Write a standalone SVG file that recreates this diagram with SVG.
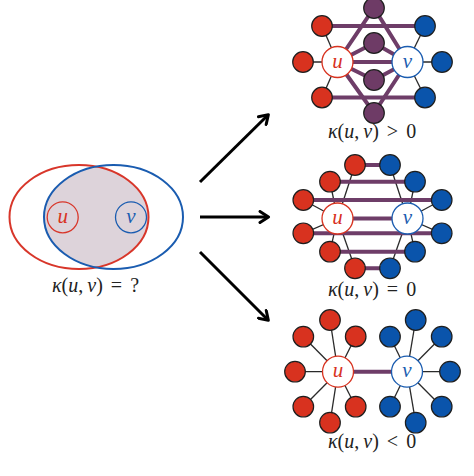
<svg xmlns="http://www.w3.org/2000/svg" width="474" height="476" viewBox="0 0 474 476">
<style>
.bg{fill:#ffffff}
.rn{fill:#d8321f;stroke:#1e1e1e;stroke-width:1.2}
.bn{fill:#0a54ab;stroke:#1e1e1e;stroke-width:1.2}
.pn{fill:#6e3b66;stroke:#1e1e1e;stroke-width:1.2}
.uc{fill:#ffffff;stroke:#d8321f;stroke-width:1.3}
.vc{fill:#ffffff;stroke:#1a5cb0;stroke-width:1.3}
.th{stroke:#2a2a2a;stroke-width:1.3;fill:none}
.pe{stroke:#6e3d68;stroke-width:4;fill:none}
.lab{font-family:"Liberation Serif","DejaVu Serif",serif;font-style:italic;font-size:21px}
.ul{fill:#d8321f}
.vl{fill:#1a5cb0}
.cap{font-family:"Liberation Serif","DejaVu Serif",serif;font-size:20px;fill:#222}
.it{font-style:italic}
.arr{stroke:#000;stroke-width:3;fill:none}
</style>
<defs>
<marker id="ah" markerWidth="14" markerHeight="14" refX="11" refY="7" orient="auto" markerUnits="userSpaceOnUse">
<path d="M3,1.5 L11.5,7 L3,12.5" fill="none" stroke="#000" stroke-width="3" stroke-linecap="round" stroke-linejoin="round"/>
</marker>
<clipPath id="redclip"><ellipse cx="79" cy="217" rx="69.5" ry="52"/></clipPath>
</defs>
<rect class="bg" x="0" y="0" width="474" height="476"/>

<g id="left-venn">
<ellipse cx="113.5" cy="217" rx="69.5" ry="52" fill="#ddd3da" clip-path="url(#redclip)"/>
<ellipse cx="79" cy="217" rx="69.5" ry="52" fill="none" stroke="#d8362a" stroke-width="2"/>
<ellipse cx="113.5" cy="217" rx="69.5" ry="52" fill="none" stroke="#1a5cb0" stroke-width="2"/>
<circle cx="62.7" cy="217.3" r="15.5" fill="none" stroke="#d8362a" stroke-width="1.3"/>
<circle cx="131" cy="217.3" r="15.5" fill="none" stroke="#1a5cb0" stroke-width="1.3"/>
<text class="lab ul" x="62.7" y="223" text-anchor="middle">u</text>
<text class="lab vl" x="131" y="223" text-anchor="middle">v</text>
<text class="cap" x="52" y="292"><tspan class="it">κ</tspan>(<tspan class="it">u</tspan>,<tspan class="it" dx="4">v</tspan>)<tspan dx="8">=</tspan><tspan dx="8">?</tspan></text>
</g>

<g id="connectors">
<line class="arr" x1="200" y1="182" x2="268" y2="115" marker-end="url(#ah)"/>
<line class="arr" x1="200" y1="217" x2="268" y2="217" marker-end="url(#ah)"/>
<line class="arr" x1="200" y1="252" x2="268" y2="320" marker-end="url(#ah)"/>
</g>

<g id="graph-positive">
<g class="th">
<line x1="337.5" y1="62" x2="322" y2="26"/>
<line x1="337.5" y1="62" x2="303" y2="62"/>
<line x1="337.5" y1="62" x2="322" y2="97.5"/>
<line x1="407.5" y1="62" x2="425" y2="26"/>
<line x1="407.5" y1="62" x2="442" y2="62"/>
<line x1="407.5" y1="62" x2="425" y2="97.5"/>
</g>
<g class="pe">
<line x1="322" y1="26" x2="425" y2="26"/>
<line x1="322" y1="97.5" x2="425" y2="97.5"/>
<line x1="337.5" y1="62" x2="407.5" y2="62"/>
<polyline points="337.5,62 374,43 407.5,62"/>
<polyline points="337.5,62 374,80 407.5,62"/>
<polyline points="337.5,62 374,8 407.5,62"/>
<polyline points="337.5,62 374,113 407.5,62"/>
</g>
<circle class="rn" cx="322" cy="26" r="10.3"/>
<circle class="rn" cx="303" cy="62" r="10.3"/>
<circle class="rn" cx="322" cy="97.5" r="10.3"/>
<circle class="bn" cx="425" cy="26" r="10.3"/>
<circle class="bn" cx="442" cy="62" r="10.3"/>
<circle class="bn" cx="425" cy="97.5" r="10.3"/>
<circle class="pn" cx="374" cy="8" r="10.3"/>
<circle class="pn" cx="374" cy="43" r="10.3"/>
<circle class="pn" cx="374" cy="80" r="10.3"/>
<circle class="pn" cx="374" cy="113" r="10.3"/>
<circle class="uc" cx="337.5" cy="62" r="15.5"/>
<circle class="vc" cx="407.5" cy="62" r="15.5"/>
<text class="lab ul" x="337.5" y="67.5" text-anchor="middle">u</text>
<text class="lab vl" x="407.5" y="67.5" text-anchor="middle">v</text>
<text class="cap" x="328" y="138"><tspan class="it">κ</tspan>(<tspan class="it">u</tspan>,<tspan class="it" dx="4">v</tspan>)<tspan dx="8">&gt;</tspan><tspan dx="8">0</tspan></text>
</g>

<g id="graph-zero">
<g class="th">
<line x1="337.5" y1="218.5" x2="355" y2="165"/>
<line x1="337.5" y1="218.5" x2="330" y2="181.7"/>
<line x1="337.5" y1="218.5" x2="303.3" y2="200"/>
<line x1="337.5" y1="218.5" x2="303.3" y2="233.3"/>
<line x1="337.5" y1="218.5" x2="330" y2="251.7"/>
<line x1="337.5" y1="218.5" x2="355" y2="268.3"/>
<line x1="407.5" y1="218.5" x2="390" y2="165"/>
<line x1="407.5" y1="218.5" x2="415" y2="181.7"/>
<line x1="407.5" y1="218.5" x2="441.7" y2="200"/>
<line x1="407.5" y1="218.5" x2="441.7" y2="233.3"/>
<line x1="407.5" y1="218.5" x2="415" y2="251.7"/>
<line x1="407.5" y1="218.5" x2="390" y2="268.3"/>
</g>
<g class="pe">
<line x1="355" y1="165" x2="390" y2="165"/>
<line x1="330" y1="181.7" x2="415" y2="181.7"/>
<line x1="303.3" y1="200" x2="441.7" y2="200"/>
<line x1="337.5" y1="218.5" x2="407.5" y2="218.5"/>
<line x1="303.3" y1="233.3" x2="441.7" y2="233.3"/>
<line x1="330" y1="251.7" x2="415" y2="251.7"/>
<line x1="355" y1="268.3" x2="390" y2="268.3"/>
</g>
<circle class="rn" cx="355" cy="165" r="10.3"/>
<circle class="rn" cx="330" cy="181.7" r="10.3"/>
<circle class="rn" cx="303.3" cy="200" r="10.3"/>
<circle class="rn" cx="303.3" cy="233.3" r="10.3"/>
<circle class="rn" cx="330" cy="251.7" r="10.3"/>
<circle class="rn" cx="355" cy="268.3" r="10.3"/>
<circle class="bn" cx="390" cy="165" r="10.3"/>
<circle class="bn" cx="415" cy="181.7" r="10.3"/>
<circle class="bn" cx="441.7" cy="200" r="10.3"/>
<circle class="bn" cx="441.7" cy="233.3" r="10.3"/>
<circle class="bn" cx="415" cy="251.7" r="10.3"/>
<circle class="bn" cx="390" cy="268.3" r="10.3"/>
<circle class="uc" cx="337.5" cy="218.5" r="15.5"/>
<circle class="vc" cx="407.5" cy="218.5" r="15.5"/>
<text class="lab ul" x="337.5" y="224" text-anchor="middle">u</text>
<text class="lab vl" x="407.5" y="224" text-anchor="middle">v</text>
<text class="cap" x="328" y="296"><tspan class="it">κ</tspan>(<tspan class="it">u</tspan>,<tspan class="it" dx="4">v</tspan>)<tspan dx="8">=</tspan><tspan dx="8">0</tspan></text>
</g>

<g id="graph-negative">
<g class="th">
<line x1="338" y1="371.7" x2="330" y2="320"/>
<line x1="338" y1="371.7" x2="303.3" y2="336.7"/>
<line x1="338" y1="371.7" x2="355.7" y2="336.5"/>
<line x1="338" y1="371.7" x2="295" y2="371.7"/>
<line x1="338" y1="371.7" x2="303.3" y2="406.7"/>
<line x1="338" y1="371.7" x2="355.7" y2="406.7"/>
<line x1="338" y1="371.7" x2="330" y2="422.7"/>
<line x1="407" y1="371.7" x2="415.7" y2="320"/>
<line x1="407" y1="371.7" x2="390" y2="336.7"/>
<line x1="407" y1="371.7" x2="441.7" y2="336.7"/>
<line x1="407" y1="371.7" x2="450" y2="371.7"/>
<line x1="407" y1="371.7" x2="390" y2="406.7"/>
<line x1="407" y1="371.7" x2="441.7" y2="406.7"/>
<line x1="407" y1="371.7" x2="415.7" y2="422.7"/>
</g>
<line class="pe" x1="338" y1="371.7" x2="407" y2="371.7"/>
<circle class="rn" cx="330" cy="320" r="10.3"/>
<circle class="rn" cx="303.3" cy="336.7" r="10.3"/>
<circle class="rn" cx="355.7" cy="336.5" r="10.3"/>
<circle class="rn" cx="295" cy="371.7" r="10.3"/>
<circle class="rn" cx="303.3" cy="406.7" r="10.3"/>
<circle class="rn" cx="355.7" cy="406.7" r="10.3"/>
<circle class="rn" cx="330" cy="422.7" r="10.3"/>
<circle class="bn" cx="415.7" cy="320" r="10.3"/>
<circle class="bn" cx="390" cy="336.7" r="10.3"/>
<circle class="bn" cx="441.7" cy="336.7" r="10.3"/>
<circle class="bn" cx="450" cy="371.7" r="10.3"/>
<circle class="bn" cx="390" cy="406.7" r="10.3"/>
<circle class="bn" cx="441.7" cy="406.7" r="10.3"/>
<circle class="bn" cx="415.7" cy="422.7" r="10.3"/>
<circle class="uc" cx="338" cy="371.7" r="15.5"/>
<circle class="vc" cx="407" cy="371.7" r="15.5"/>
<text class="lab ul" x="338" y="377.2" text-anchor="middle">u</text>
<text class="lab vl" x="407" y="377.2" text-anchor="middle">v</text>
<text class="cap" x="328" y="448"><tspan class="it">κ</tspan>(<tspan class="it">u</tspan>,<tspan class="it" dx="4">v</tspan>)<tspan dx="8">&lt;</tspan><tspan dx="8">0</tspan></text>
</g>
</svg>
